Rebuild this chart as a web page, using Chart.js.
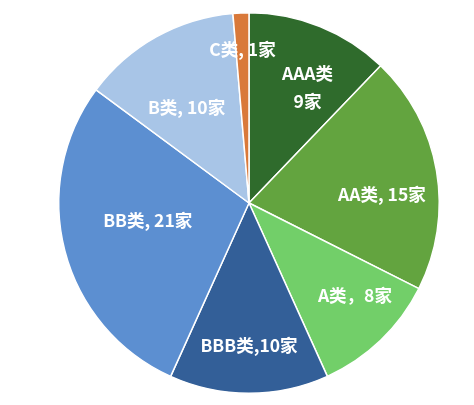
<!DOCTYPE html>
<html>
<head>
<meta charset="utf-8">
<script src="https://cdn.jsdelivr.net/npm/chart.js@4"></script>
<style>
  body { margin: 0; background: #fff; }
  #wrap { width: 474px; height: 405px; }
</style>
</head>
<body>
<div id="wrap"><canvas id="pie"></canvas></div>
<script>
// ratings and number of firms
const categories = ['AAA类', 'AA类', 'A类', 'BBB类', 'BB类', 'B类', 'C类'];
const counts = [9, 15, 8, 10, 21, 10, 1];
const labelTexts = [['AAA类', '9家'], ['AA类, 15家'], ['A类，8家'], ['BBB类,10家'], ['BB类, 21家'], ['B类, 10家'], ['C类, 1家']];

const colors = ['#2f6b2c', '#63a43f', '#72cf69', '#335f98', '#5c8fd1', '#a8c5e7', '#d9793a'];
// where each label sits, as fraction of radius, plus small angle nudge (deg)
const labelRadius = [0.68, 0.70, 0.74, 0.75, 0.54, 0.60, 0.81];
const labelNudge = [5, 6, -5, 0, 5, -4, 0];

const sliceLabels = {
  id: 'sliceLabels',
  afterDatasetsDraw(chart) {
    const ctx = chart.ctx;
    const meta = chart.getDatasetMeta(0);
    ctx.save();
    ctx.fillStyle = '#fff';
    ctx.font = 'bold 17.5px "Noto Sans CJK SC", "Microsoft YaHei", sans-serif';
    ctx.textAlign = 'center';
    ctx.textBaseline = 'middle';
    meta.data.forEach(function (arc, i) {
      const p = arc.getProps(['x', 'y', 'startAngle', 'endAngle', 'outerRadius'], true);
      const a = (p.startAngle + p.endAngle) / 2 + labelNudge[i] * Math.PI / 180;
      const r = p.outerRadius * labelRadius[i];
      const x = p.x + Math.cos(a) * r;
      const y = p.y + Math.sin(a) * r;
      const lines = labelTexts[i];
      lines.forEach(function (t, k) {
        ctx.fillText(t, x, y + (k - (lines.length - 1) / 2) * 28);
      });
    });
    ctx.restore();
  }
};

document.addEventListener('DOMContentLoaded', function () {
  const canvaPie = document.getElementById('pie').getContext('2d');
  const chart1 = new Chart(canvaPie, {
    type: 'pie',
    data: {
      labels: categories,
      datasets: [{
        data: counts,
        backgroundColor: colors,
        borderColor: '#fff',
        borderWidth: 1.5
      }]
    },
    options: {
      responsive: true,
      maintainAspectRatio: false,
      animation: false,
      layout: { padding: { top: 12, bottom: 11, left: 58, right: 34 } },
      plugins: {
        legend: { display: false },
        tooltip: { enabled: false }
      }
    },
    plugins: [sliceLabels]
  });
});
</script>
</body>
</html>
